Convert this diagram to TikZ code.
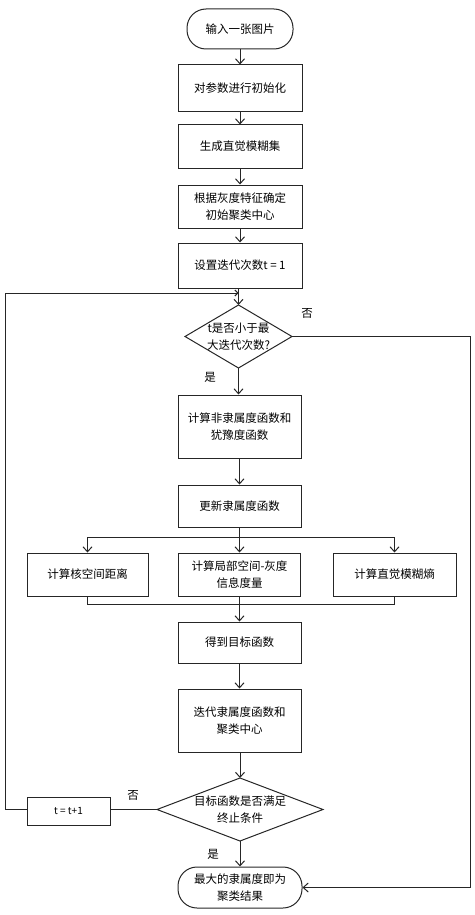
\documentclass[tikz,border=0pt]{standalone}
\usepackage{fontspec}
\setmainfont{Noto Sans CJK SC}
\usetikzlibrary{arrows.meta}
\begin{document}
\begin{tikzpicture}[x=1pt,y=-1pt,
  line/.style={draw=black!85, line width=1pt},
  arr/.style={line, -{Straight Barb[length=5pt,width=9pt]}},
  box/.style={line, rectangle, align=center, inner sep=2pt, font=\fontsize{11.5}{17}\selectfont},
  term/.style={box, rounded corners=19pt},
  lbl/.style={font=\fontsize{11.5}{14}\selectfont, inner sep=0pt},
  dtext/.style={align=center, inner sep=0pt, font=\fontsize{11.5}{17}\selectfont}]
\useasboundingbox (0,0) rectangle (474,915);
% nodes
\node[term, minimum width=106pt, minimum height=40pt] (start) at (240,29) {输入一张图片};
\node[box, minimum width=124pt, minimum height=47pt] (b1) at (240,88.5) {对参数进行初始化};
\node[box, minimum width=124pt, minimum height=43pt] (b2) at (240,146.5) {生成直觉模糊集};
\node[box, minimum width=124pt, minimum height=43pt] (b3) at (240,206.5) {根据灰度特征确定\\初始聚类中心};
\node[box, minimum width=124pt, minimum height=45pt] (b4) at (240,265.5) {设置迭代次数t = 1};
% diamond 1
\node[dtext] (d1) at (238.5,336.5) {t是否小于最\\大迭代次数?};
\coordinate (d1n) at (238.5,305);
\coordinate (d1s) at (238.5,368);
\coordinate (d1w) at (185,336.5);
\coordinate (d1e) at (292,336.5);
\draw[line] (d1n) -- (d1e) -- (d1s) -- (d1w) -- cycle;
\node[box, minimum width=123pt, minimum height=63pt] (b5) at (239.5,426.5) {计算非隶属度函数和\\犹豫度函数};
\node[box, minimum width=123pt, minimum height=42pt] (b6) at (239.5,506) {更新隶属度函数};
\node[box, minimum width=121pt, minimum height=43pt] (c1) at (87.5,574.5) {计算核空间距离};
\node[box, minimum width=122pt, minimum height=43pt] (c2) at (239.5,574.5) {计算局部空间-灰度\\信息度量};
\node[box, minimum width=123pt, minimum height=43pt] (c3) at (394.5,574.5) {计算直觉模糊熵};
\node[box, minimum width=123pt, minimum height=41pt] (b7) at (239.5,642.5) {得到目标函数};
\node[box, minimum width=123pt, minimum height=63pt] (b8) at (239.5,720.5) {迭代隶属度函数和\\聚类中心};
% diamond 2
\node[dtext] (d2) at (240,809.5) {目标函数是否满足\\终止条件};
\coordinate (d2n) at (240,778);
\coordinate (d2s) at (240,841);
\coordinate (d2w) at (157,809.5);
\coordinate (d2e) at (323,809.5);
\draw[line] (d2n) -- (d2e) -- (d2s) -- (d2w) -- cycle;
\node[box, minimum width=83pt, minimum height=28pt, font=\fontsize{10}{12}\selectfont] (tb) at (68.5,811) {t = t+1};
\node[term, minimum width=124pt, minimum height=41pt] (end) at (240,887.5) {最大的隶属度即为\\聚类结果};
% helper coordinates
\coordinate (jn) at (238.5,293);
\coordinate (lx) at (5,293);
\coordinate (lb) at (5,809.5);
\coordinate (rx) at (470,336.5);
\coordinate (rb) at (470,887.5);
\coordinate (sp) at (239.5,537);
\coordinate (spl) at (87.5,537);
\coordinate (spr) at (394.5,537);
\coordinate (mg) at (239.5,604);
\coordinate (mgl) at (87.5,604);
\coordinate (mgr) at (394.5,604);
% connectors
\draw[arr] (start) -- (b1);
\draw[arr] (b1) -- (b2);
\draw[arr] (b2) -- (b3);
\draw[arr] (b3) -- (b4);
\draw[arr] (b4.south -| d1n) -- (d1n);
\draw[line] (d2w) -- (tb.east |- d2w);
\draw[line, -{Straight Barb[length=3pt,width=6pt]}] (tb.west |- lb) -- (lb) -- (lx) -- (jn);
\draw[line] (d1e) -- (rx) -- (rb);
\draw[arr] (rb) -- (end.east);
\draw[arr] (d1s) -- (b5.north -| d1s);
\draw[arr] (b5) -- (b6);
\draw[line] (b6) -- (sp);
\draw[line] (spl) -- (spr);
\draw[arr] (spl) -- (c1);
\draw[arr] (sp) -- (c2);
\draw[arr] (spr) -- (c3);
\draw[line] (c1) -- (mgl) -- (mgr) -- (c3);
\draw[arr] (c2) -- (b7);
\draw[arr] (b7) -- (b8);
\draw[arr] (b8.south -| d2n) -- (d2n);
\draw[arr] (d2s) -- (end);
% labels
\node[lbl] (no1) at (307,313) {否};
\node[lbl] (yes1) at (210,377) {是};
\node[lbl] (no2) at (133,795) {否};
\node[lbl] (yes2) at (213,854) {是};
\end{tikzpicture}
\end{document}
